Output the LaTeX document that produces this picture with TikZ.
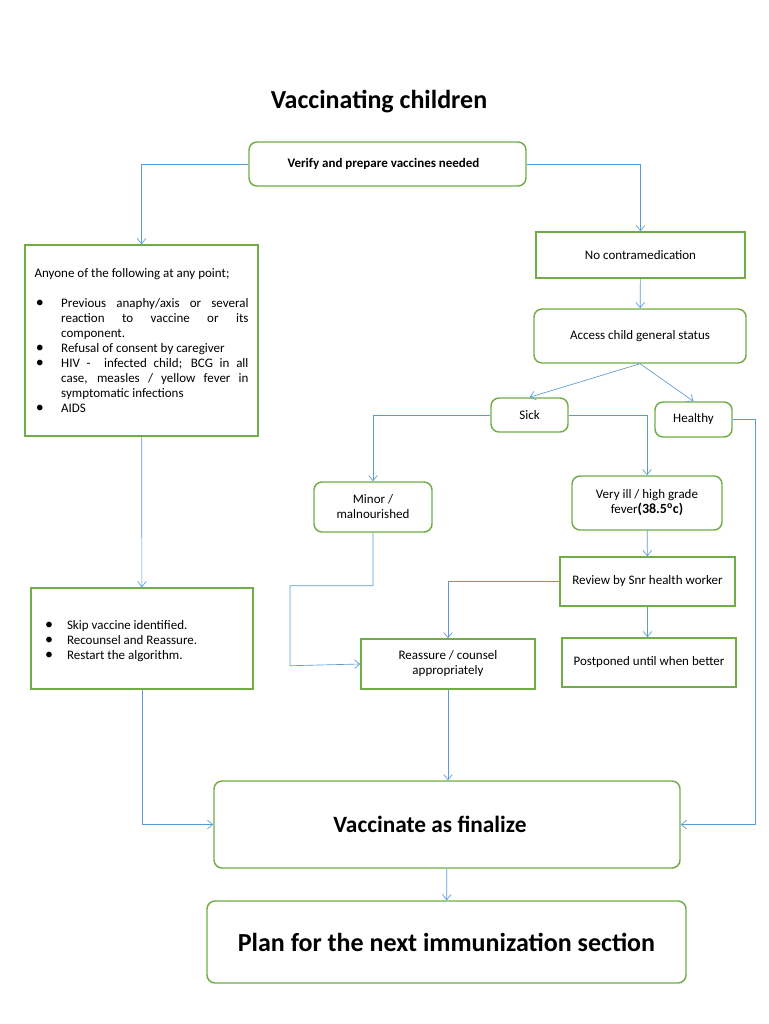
\documentclass[tikz,border=0pt]{standalone}
\usepackage{fontspec}
\setmainfont{Carlito}
\usepackage{enumitem}
\usetikzlibrary{arrows.meta}
\definecolor{boxgreen}{HTML}{70AD47}
\definecolor{arrowblue}{HTML}{5B9BD5}
\tikzset{
  sbox/.style={draw=boxgreen,line width=1.1pt,align=center,inner sep=2pt,font=\fontsize{9.75}{11.25}\selectfont},
  rbox/.style={sbox,rounded corners=6pt},
  arr/.style={draw=arrowblue,line width=0.5pt,-{Straight Barb[length=4pt,width=6.5pt]}}
}
\begin{document}
\begin{tikzpicture}[x=0.75pt,y=-0.75pt]
    %% Page
    \useasboundingbox[fill=white] (0,0) rectangle (768,1024);
    %% Title
    \node[font=\fontsize{19.5}{23}\selectfont\bfseries] (title) at (379,102) {Vaccinating children};
    %% Boxes
    \node[rbox,minimum width=207.75pt,minimum height=33pt,font=\fontsize{9.75}{11}\selectfont\bfseries] (verify) at (387.5,164) {\hspace*{-6pt}Verify and prepare vaccines needed};
    \node[sbox,minimum width=174.75pt,minimum height=143.25pt,text width=160.5pt,align=justify] (anyone) at (141.5,340.5) {%
      \hyphenpenalty=10000\exhyphenpenalty=10000
      Anyone of the following at any point;\par\vspace{11.25pt}
      \begin{itemize}[leftmargin=20pt,labelwidth=8pt,labelsep=11pt,align=left,itemsep=0pt,topsep=0pt,parsep=0pt,partopsep=0pt,label={\large\textbullet}]
        \item Previous anaphy/axis or several reaction to vaccine or its component.
        \item Refusal of consent by caregiver
        \item HIV - \ infected child; BCG in all case, measles / yellow fever in symptomatic infections
        \item AIDS
      \end{itemize}};
    \node[sbox,minimum width=156.75pt,minimum height=34.5pt] (nocontra) at (640.5,255) {No contramedication};
    \node[rbox,minimum width=159pt,minimum height=40.5pt] (access) at (640,336) {Access child general status};
    \node[rbox,minimum width=57.75pt,minimum height=25.5pt] (sick) at (529.5,415) {Sick};
    \node[rbox,minimum width=57.75pt,minimum height=26.25pt] (healthy) at (693.5,419.5) {Healthy};
    \node[rbox,minimum width=88.5pt,minimum height=37.5pt] (minor) at (373,507) {Minor /\\ malnourished};
    \node[rbox,minimum width=112.5pt,minimum height=40.5pt] (veryill) at (647,503) {Very ill / high grade\\ fever{\fontsize{10.5}{11.25}\selectfont\bfseries(38.5\textsuperscript{o}c)}};
    \node[sbox,minimum width=131.25pt,minimum height=36.75pt] (review) at (647.5,581.5) {Review by Snr health worker};
    \node[sbox,minimum width=130.5pt,minimum height=36.75pt] (postponed) at (649,662.5) {Postponed until when better};
    \node[sbox,minimum width=130.5pt,minimum height=37.5pt] (reassure) at (448,664) {Reassure / counsel\\ appropriately};
    \node[sbox,minimum width=166.5pt,minimum height=75.75pt,text width=150pt,align=justify] (skip) at (142,638.5) {%
      \begin{itemize}[leftmargin=18.75pt,labelwidth=8pt,labelsep=8.5pt,align=left,itemsep=0pt,topsep=0pt,parsep=0pt,partopsep=0pt,label={\large\textbullet}]
        \item Skip vaccine identified.
        \item Recounsel and Reassure.
        \item Restart the algorithm.
      \end{itemize}};
    \node[rbox,minimum width=349.5pt,minimum height=65.25pt,font=\fontsize{17.5}{21}\selectfont\bfseries] (vaccinate) at (447,824.5) {\hspace*{-25.5pt}Vaccinate as finalize};
    \node[rbox,minimum width=359.25pt,minimum height=61.5pt,font=\fontsize{19.5}{23}\selectfont\bfseries] (plan) at (446.5,942) {Plan for the next immunization section};
    %% Connectors
    \draw[arr] (verify.west) -| (anyone.north);
    \draw[arr] (verify.east) -| (nocontra.north);
    \draw[arr] (nocontra) -- (access);
    \draw[arr] (access.south) -- (sick.north);
    \draw[arr] (access.south) -- (healthy.north);
    \draw[arr] (sick.west) -| (minor.north);
    \draw[arr] (sick.east) -| (veryill.north);
    \draw[arr] (veryill) -- (review);
    \draw[arr] (review.west) -| (reassure.north);
    \draw[arr] (review.south) -- (review.south |- postponed.north);
    \draw[arr] (minor.south) -- ++(0,53) -| ++(-83,80) -- (reassure.west);
    \draw[arr] (anyone) -- (skip);
    \draw[arr] (skip.south) |- (vaccinate.west);
    \draw[arr] (reassure.south) -- (reassure.south |- vaccinate.north);
    \draw[arr] (healthy.east) -- ++(23,0) |- (vaccinate.east);
    \draw[arr] (vaccinate) -- (plan);
\end{tikzpicture}
\end{document}
